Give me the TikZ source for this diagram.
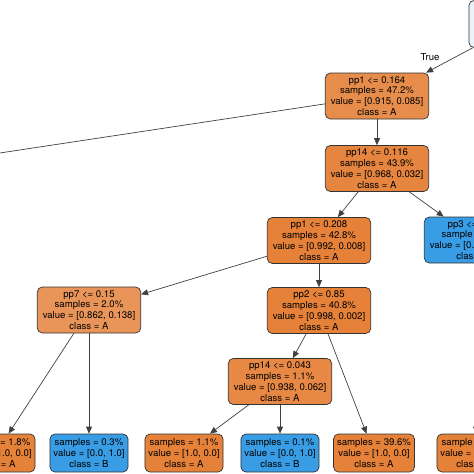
\documentclass[tikz,border=0pt]{standalone}
\usepackage{fontspec}
\setmainfont{TeX Gyre Heros}
\usetikzlibrary{arrows.meta}
\definecolor{pureA}{RGB}{229,129,57}
\definecolor{mixA1}{RGB}{231,141,75}
\definecolor{mixA2}{RGB}{230,133,63}
\definecolor{mixA3}{RGB}{231,137,69}
\definecolor{mixA4}{RGB}{233,149,89}
\definecolor{pureB}{RGB}{57,157,229}
\definecolor{rootB}{RGB}{232,243,252}

\begin{document}
\begin{tikzpicture}[x=1pt,y=-1pt,
  every node/.style={font=\fontsize{9.6}{10.8}\selectfont,text=black},
  box/.style={draw=black!80,line width=0.7pt,rounded corners=5pt,align=center,inner xsep=5.5pt,inner ysep=2pt,minimum height=46pt},
  leaf/.style={box,inner xsep=3.5pt,minimum height=38pt},
  branch/.style={draw=black!75,line width=0.7pt,-{Triangle[length=7pt,width=6pt]}}]
  \clip (0,0) rectangle (474,474);
  \node[box,fill=rootB,minimum width=102pt,minimum height=47pt] (0) at (520,24) {};
  \node[box,fill=mixA1] (1) at (377,96) {pp1 <= 0.164\\samples = 47.2\%\\value = [0.915, 0.085]\\class = A};
  \coordinate (2) at (-30,157.5);
  \node[box,fill=mixA2] (3) at (377,168.5) {pp14 <= 0.116\\samples = 43.9\%\\value = [0.968, 0.032]\\class = A};
  \node[box,fill=pureA] (4) at (319,240.5) {pp1 <= 0.208\\samples = 42.8\%\\value = [0.992, 0.008]\\class = A};
  \node[box,fill=pureB] (5) at (476,240) {pp3 <=\phantom{ 0.000}\\sample\phantom{s = 0.0\%}\\value = [0.\phantom{000, 0.000]}\\clas\phantom{s = B}};
  \node[box,fill=mixA4] (6) at (89,310) {pp7 <= 0.15\\samples = 2.0\%\\value = [0.862, 0.138]\\class = A};
  \node[box,fill=pureA] (7) at (319,310.5) {pp2 <= 0.85\\samples = 40.8\%\\value = [0.998, 0.002]\\class = A};
  \node[leaf,fill=pureA] (8) at (-4,453) {samples = 1.8\%\\value = [1.0, 0.0]\\class = A};
  \node[leaf,fill=pureB] (9) at (89,453) {samples = 0.3\%\\value = [0.0, 1.0]\\class = B};
  \node[box,fill=mixA3] (10) at (280,381.5) {pp14 <= 0.043\\samples = 1.1\%\\value = [0.938, 0.062]\\class = A};
  \node[leaf,fill=pureA] (11) at (374,453) {samples = 39.6\%\\value = [1.0, 0.0]\\class = A};
  \node[leaf,fill=pureA] (12) at (184,453) {samples = 1.1\%\\value = [1.0, 0.0]\\class = A};
  \node[leaf,fill=pureB] (13) at (280,453) {samples = 0.1\%\\value = [0.0, 1.0]\\class = B};
  \node[leaf,fill=pureA] (14) at (476,453) {sample\phantom{s = 0.0\%}\\value =\phantom{ [1.0, 0.0]}\\clas\phantom{s = A}};
  \node (15) at (430,57) {True};
  \draw[branch] ([xshift=4pt]0.south west) -- ([xshift=-3pt]1.north east);
  \draw[branch] (1) -- (2);
  \draw[branch] (1) -- (3);
  \draw[branch] (3) -- (4);
  \draw[branch] (3) -- (5);
  \draw[branch] (4) -- (6);
  \draw[branch] (4) -- (7);
  \draw[branch] (6) -- (8);
  \draw[branch] (6) -- (9);
  \draw[branch] (7) -- (10);
  \draw[branch] (7) -- (11);
  \draw[branch] (10) -- (12);
  \draw[branch] (10) -- (13);
  \draw[branch] (5) -- (14);
\end{tikzpicture}
\end{document}
